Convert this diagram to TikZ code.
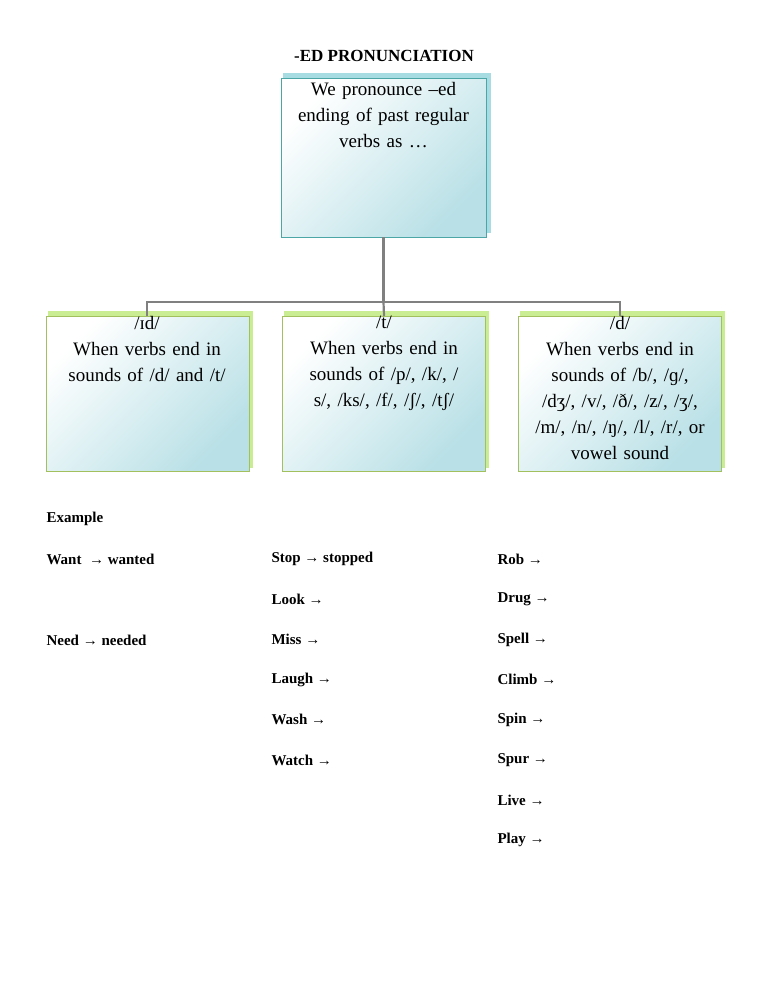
\documentclass[tikz,border=0pt]{standalone}
\usepackage{fontspec}
\setmainfont{Liberation Serif}
\definecolor{shd}{RGB}{184,224,230}
\definecolor{glowt}{RGB}{60,180,190}
\definecolor{glowg}{RGB}{150,220,40}
\begin{document}
\begin{tikzpicture}[x=1pt,y=-1pt,
 bx/.style={draw=#1,line width=0.8pt,shading=axis,left color=white,right color=shd,shading angle=45},
 tx/.style={align=center,font=\fontsize{19}{26}\selectfont,anchor=north,text width=205pt,inner sep=0pt},
 ex/.style={anchor=west,font=\bfseries\fontsize{15}{18}\selectfont},
 con/.style={draw=gray,line width=2.2pt}]
\useasboundingbox (0,0) rectangle (768,994);
\node[font=\bfseries\fontsize{17}{20}\selectfont] (title) at (384,56) {-ED PRONUNCIATION};
% top
\fill[glowt,opacity=0.45] (283,73) rectangle (491,233);
\path[bx=teal!70] (281,78) rectangle (486,237);
\node[tx] (top) at (383.5,82) {We pronounce –ed\\ending of past regular\\verbs as …};
\coordinate (tb) at (383.5,237);
\coordinate (j) at (383.5,302);
% children
\foreach \n/\l in {a/46,b/282,c/518}{
 \fill[glowg,opacity=0.5] (\l+2,311) rectangle (\l+207,468);
 \path[bx=olive!60!green!60] (\l,316) rectangle (\l+203,471);
}
\node[tx] (ca) at (147,316) {/ɪd/\\When verbs end in\\sounds of /d/ and /t/};
\node[tx] (cb) at (384,316) {/t/\\When verbs end in\\sounds of /p/, /k/, /\\s/, /ks/, /f/, /ʃ/, /tʃ/};
\node[tx] (cc) at (620,316) {/d/\\When verbs end in\\sounds of /b/, /ɡ/,\\/dʒ/, /v/, /ð/, /z/, /ʒ/,\\/m/, /n/, /ŋ/, /l/, /r/, or\\vowel sound};
\draw[con] (tb) -- (j);
\draw[con] (147,316) |- (j) -| (620,316);
\draw[con] (j) -- (384,316);
% examples
\node[ex] (e0) at (43,519) {Example};
\node[ex] (a1) at (43,559) {Want\ \ → wanted};
\node[ex] (a2) at (43,640) {Need → needed};
\foreach \t [count=\i] in {Stop → stopped,Look →,Miss →,Laugh →,Wash →,Watch →}
 \node[ex] (b\i) at (268,559+40.2*\i-40.2) {\t};
\foreach \t [count=\i] in {Rob →,Drug →,Spell →,Climb →,Spin →,Spur →,Live →,Play →}
 \node[ex] (c\i) at (494,559+40.2*\i-40.2) {\t};
\end{tikzpicture}
\end{document}
